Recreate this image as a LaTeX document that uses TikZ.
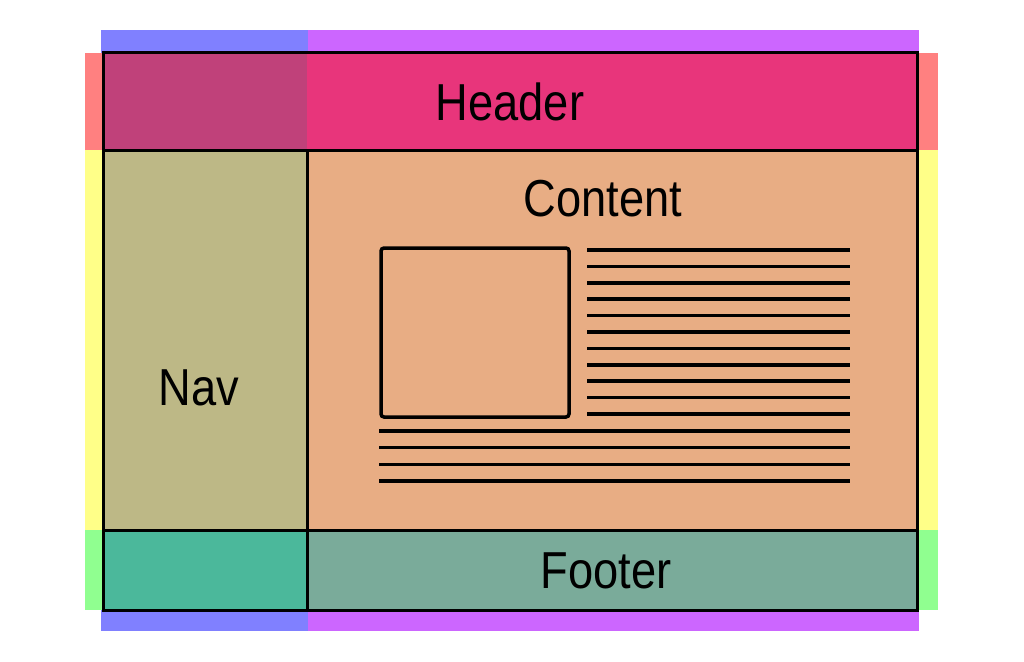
\documentclass[tikz,border=0pt]{standalone}
\usepackage{fontspec}
\setmainfont[FakeStretch=0.87]{Liberation Sans}
\begin{document}
\begin{tikzpicture}[x=1pt,y=-1pt,
  frame/.style={draw=black,line width=3pt},
  txt/.style={font=\fontsize{52}{52}\selectfont,inner sep=0pt},
  ln/.style={line width=3.5pt}]
\useasboundingbox (0,0) rectangle (1024,661);
\definecolor{cblue}{HTML}{8080FF}
\definecolor{cpurp}{HTML}{CC66FF}
\definecolor{cred}{HTML}{FF8080}
\definecolor{cyel}{HTML}{FFFF88}
\definecolor{cgrn}{HTML}{90FF90}
\definecolor{hdl}{HTML}{C0417A}
\definecolor{hdr}{HTML}{E8357B}
\definecolor{cont}{HTML}{E8AD84}
\definecolor{nav}{HTML}{BDB886}
\definecolor{ftl}{HTML}{4BB89B}
\definecolor{ftr}{HTML}{7AAB9A}
% outer bars
\fill[cblue] (101,30) rectangle (308,53);
\fill[cpurp] (308,30) rectangle (919,53);
\fill[cblue] (101,610) rectangle (308,631);
\fill[cpurp] (308,610) rectangle (919,631);
\foreach \x/\w in {85/103,917/938}{
  \fill[cred] (\x,53) rectangle (\w,150);
  \fill[cyel] (\x,150) rectangle (\w,530);
  \fill[cgrn] (\x,530) rectangle (\w,610);
}
% areas
\fill[hdl] (103,53) rectangle (307,150);
\fill[hdr] (307,53) rectangle (917,150);
\fill[nav] (103,150) rectangle (307,530);
\fill[cont] (307,150) rectangle (917,530);
\fill[ftl] (103,530) rectangle (307,610);
\fill[ftr] (307,530) rectangle (917,610);
\draw[frame] (103,53) rectangle (917,610);
\draw[frame] (103,150) -- (917,150);
\draw[frame] (103,530) -- (917,530);
\draw[frame] (307,150) -- (307,610);
\node[txt] (hd) at (510,102) {Header};
\node[txt] (ct) at (603,199) {Content};
\node[txt] (nv) at (199,388) {Nav};
\node[txt] (ft) at (606,571) {Footer};
\draw[line width=3.5pt,rounded corners=3pt] (381,248) rectangle (569,417);
\foreach \y in {250,266.4,...,415}{\draw[ln] (587,\y) -- (850,\y);}
\foreach \y in {431,447.7,464.4,481}{\draw[ln] (379,\y) -- (850,\y);}
\end{tikzpicture}
\end{document}
